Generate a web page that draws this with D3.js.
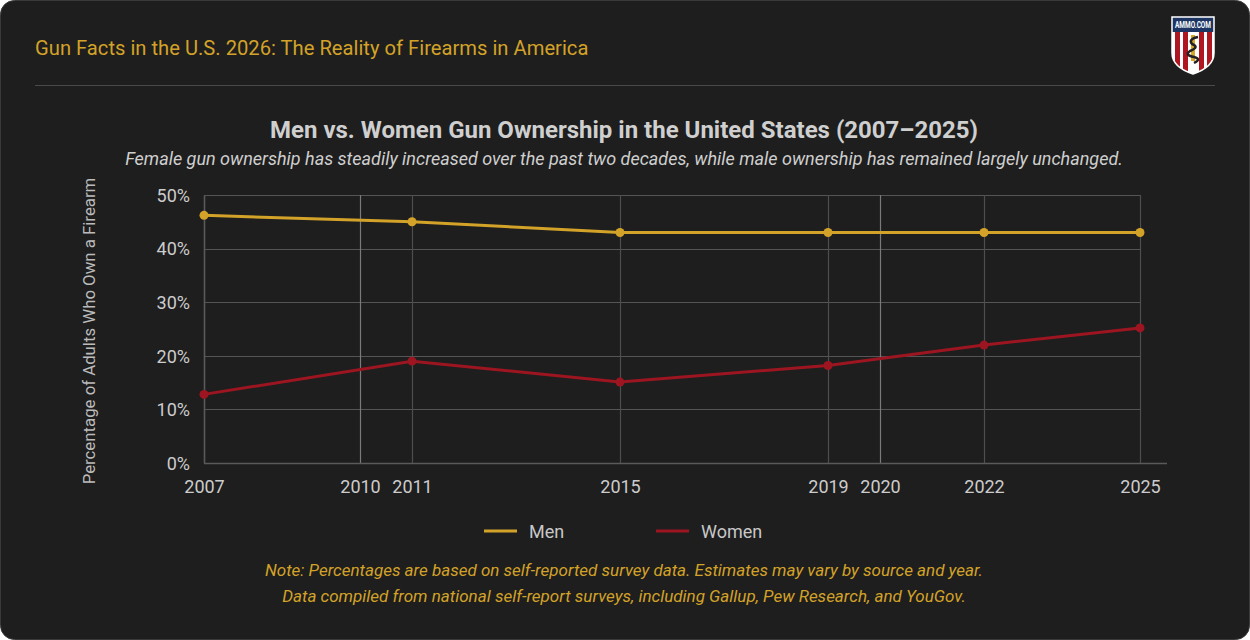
<!DOCTYPE html>
<html>
<head>
<meta charset="utf-8">
<script src="https://cdnjs.cloudflare.com/ajax/libs/d3/7.8.5/d3.min.js"></script>
<style>
html,body{margin:0;padding:0;background:#ffffff;}
svg{display:block;font-family:Roboto,"Noto Sans",sans-serif;}
</style>
</head>
<body>
<svg id="chart" width="1250" height="640"></svg>
<script>
// ---- data ----
const years = [2007, 2011, 2015, 2019, 2022, 2025];
const menValues = [46.2, 45, 43, 43, 43, 43];
const womenValues = [12.8, 19, 15.1, 18.2, 22, 25.2];
const xTickValues = [2007, 2010, 2011, 2015, 2019, 2020, 2022, 2025];
const yTickValues = [0, 10, 20, 30, 40, 50];
const seriesNames = ["Men", "Women"];
const seriesColors = ["#d3a228", "#9c1520"];

const headerText = "Gun Facts in the U.S. 2026: The Reality of Firearms in America";
const titleText = "Men vs. Women Gun Ownership in the United States (2007\u20132025)";
const subtitleText = "Female gun ownership has steadily increased over the past two decades, while male ownership has remained largely unchanged.";
const yAxisTitle = "Percentage of Adults Who Own a Firearm";
const notes = [
  "Note: Percentages are based on self-reported survey data. Estimates may vary by source and year.",
  "Data compiled from national self-report surveys, including Gallup, Pew Research, and YouGov."
];

const svg = d3.select("#chart");
const gold = "#d3a228";

// card
svg.append("rect").attr("x",0.5).attr("y",0.5).attr("width",1249).attr("height",639)
  .attr("rx",14).attr("fill","#1e1e1e").attr("stroke","#3a3a3a");

// header
svg.append("text").attr("x",35).attr("y",55).attr("fill",gold)
  .attr("font-size",20.2).text(headerText);
svg.append("line").attr("x1",35).attr("x2",1215).attr("y1",85.5).attr("y2",85.5)
  .attr("stroke","#4a4a4a").attr("stroke-width",1);

// logo
const logo = svg.append("g").attr("transform","translate(1172,17)");
const shieldPath = "M0,0 H42 V36 Q42,50 21,57 Q0,50 0,36 Z";
const clip = svg.append("defs").append("clipPath").attr("id","shieldClip");
clip.append("path").attr("d", shieldPath);
logo.append("path").attr("d", shieldPath).attr("fill","#ffffff");
const inner = logo.append("g").attr("clip-path","url(#shieldClip)");
const stripeX = [3, 11, 27, 35];
inner.selectAll("rect.st").data(stripeX).join("rect")
  .attr("x", d=>d).attr("y", 14).attr("width", 5).attr("height", 40).attr("fill","#b0161f");
inner.append("rect").attr("x",0).attr("y",0).attr("width",42).attr("height",15).attr("fill","#1c3563");
inner.append("rect").attr("x",19).attr("y",18).attr("width",4).attr("height",26).attr("fill","#d8a62a");
logo.append("path").attr("d","M26,20 Q16,22 20,27 Q28,30 18,34 Q12,38 22,40 Q30,42 22,46")
  .attr("fill","none").attr("stroke","#222").attr("stroke-width",2.5);
logo.append("text").attr("x",21).attr("y",11).attr("text-anchor","middle")
  .attr("fill","#fff").attr("font-size",8.5).attr("font-weight","bold").attr("textLength",36)
  .attr("lengthAdjust","spacingAndGlyphs").text("AMMO.COM");
logo.append("path").attr("d", d3.symbol(d3.symbolStar, 12)()).attr("transform","translate(21,50)").attr("fill","#fff");
logo.append("path").attr("d", shieldPath).attr("fill","none").attr("stroke","#fff").attr("stroke-width",1.5);

// titles
svg.append("text").attr("x",624).attr("y",138).attr("text-anchor","middle")
  .attr("fill","#cfcfcf").attr("font-size",24).attr("font-weight","bold").text(titleText);
svg.append("text").attr("x",624).attr("y",165).attr("text-anchor","middle")
  .attr("fill","#cfcfcf").attr("font-size",18).attr("font-style","italic").text(subtitleText);

// scales
const x = d3.scaleLinear().domain([2007, 2025]).range([204, 1140]);
const y = d3.scaleLinear().domain([0, 50]).range([463, 195]);

// grid
const grid = svg.append("g");
grid.selectAll("line.h").data(yTickValues.filter(v=>v>0)).join("line")
  .attr("x1", x(2007)).attr("x2", x(2025))
  .attr("y1", d=>Math.round(y(d))+0.5).attr("y2", d=>Math.round(y(d))+0.5)
  .attr("stroke","#555").attr("stroke-width",1.2);
grid.selectAll("line.v").data(xTickValues).join("line")
  .attr("x1", d=>Math.round(x(d))+0.5).attr("x2", d=>Math.round(x(d))+0.5)
  .attr("y1", y(50)).attr("y2", y(0))
  .attr("stroke", d => (d % 10 === 0) ? "#7a7a7a" : "#4e4e4e").attr("stroke-width",1.2);
// x baseline
svg.append("line").attr("x1", x(2007)).attr("x2", 1167)
  .attr("y1", Math.round(y(0))+0.5).attr("y2", Math.round(y(0))+0.5)
  .attr("stroke","#5a5a5a").attr("stroke-width",1.5);

// y axis via d3.axisLeft
const yAxis = svg.append("g").attr("transform", `translate(${x(2007)},0)`)
  .call(d3.axisLeft(y).tickValues(yTickValues).tickFormat(d=>d+"%").tickSize(0).tickPadding(14));
yAxis.select(".domain").attr("stroke","#5a5a5a").attr("stroke-width",1.5);
yAxis.selectAll("text").attr("fill","#cccccc").attr("font-size",18).attr("font-family","Roboto").attr("dy","0.35em");

// x axis
const xAxis = svg.append("g").attr("transform", `translate(0,${y(0)})`)
  .call(d3.axisBottom(x).tickValues(xTickValues).tickFormat(d3.format("d")).tickSize(0).tickPadding(17));
xAxis.select(".domain").remove();
xAxis.selectAll("text").attr("fill","#cccccc").attr("font-size",18).attr("font-family","Roboto");

// y axis title
svg.append("text").attr("transform","translate(95,331) rotate(-90)").attr("text-anchor","middle")
  .attr("fill","#bbbbbb").attr("font-size",16.8).text(yAxisTitle);

// lines
const series = [menValues, womenValues];
const line = d3.line().x((d,i)=>x(years[i])).y(d=>y(d));
series.forEach((vals, si) => {
  svg.append("path").datum(vals).attr("d", line).attr("fill","none")
    .attr("stroke", seriesColors[si]).attr("stroke-width",3);
  svg.selectAll(null).data(vals).join("circle")
    .attr("cx",(d,i)=>x(years[i])).attr("cy", d=>y(d)).attr("r",4.5)
    .attr("fill", seriesColors[si]);
});

// legend
const legX = [484, 656];
seriesNames.forEach((name, i) => {
  svg.append("line").attr("x1", legX[i]).attr("x2", legX[i]+33).attr("y1",531).attr("y2",531)
    .attr("stroke", seriesColors[i]).attr("stroke-width",3);
  svg.append("text").attr("x", legX[i]+45).attr("y",537.5).attr("fill","#c8c8c8")
    .attr("font-size",18).text(name);
});

// notes
notes.forEach((t,i) => {
  svg.append("text").attr("x",624).attr("y",576 + i*26).attr("text-anchor","middle")
    .attr("fill",gold).attr("font-size",17).attr("font-style","italic").text(t);
});
</script>
</body>
</html>
